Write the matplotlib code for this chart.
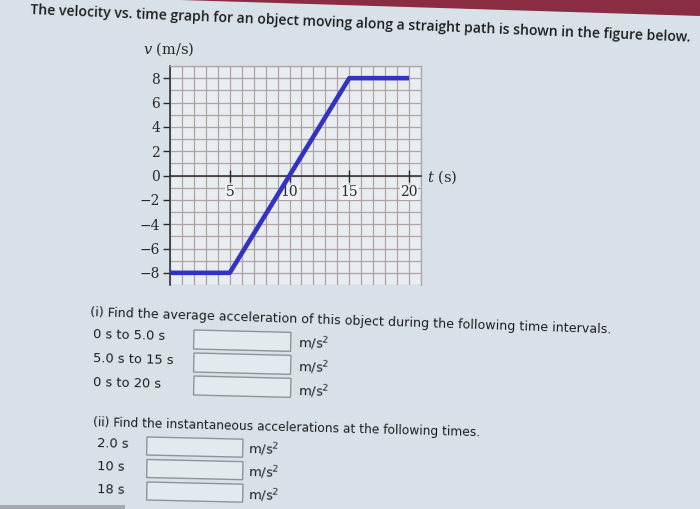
import matplotlib
matplotlib.use('Agg')
import matplotlib.pyplot as plt
from matplotlib.patches import Polygon
from matplotlib.ticker import MultipleLocator, FixedLocator
import numpy as np

# ---------------- data ----------------
time_s = [0, 5, 15, 20]
velocity = [-8, -8, 8, 8]
x_ticks = [5, 10, 15, 20]
y_ticks = [-8, -6, -4, -2, 0, 2, 4, 6, 8]
title_text = ("The velocity vs. time graph for an object moving along a "
              "straight path is shown in the figure below.")
part1_text = ("(i) Find the average acceleration of this object during the "
              "following time intervals.")
part1_rows = ["0 s to 5.0 s", "5.0 s to 15 s", "0 s to 20 s"]
part2_text = "(ii) Find the instantaneous accelerations at the following times."
part2_rows = ["2.0 s", "10 s", "18 s"]
unit_text = "m/s$^2$"

# ---------------- figure ----------------
W, H = 700, 509
plt.rcParams['mathtext.default'] = 'regular'
plt.rcParams['mathtext.fontset'] = 'dejavuserif'

fig = plt.figure(figsize=(W / 100, H / 100), dpi=100)
fig.patch.set_facecolor('#d7e1e7')

bg = fig.add_axes([0, 0, 1, 1])
bg.set_xlim(0, W)
bg.set_ylim(H, 0)
bg.axis('off')
bg.set_zorder(0)

# decorative photo edges
bg.add_patch(Polygon([(180, 0), (W, 0), (W, 16)], closed=True,
                     facecolor='#8a2c42', edgecolor='none'))
bg.add_patch(Polygon([(0, 505), (125, 505), (125, H), (0, H)], closed=True,
                     facecolor='#a3a9ae', edgecolor='none'))

renderer = fig.canvas.get_renderer()
TXT = '#1e1e1e'


def fit_text(x, y, s, width, angle, family='DejaVu Sans', weight='normal'):
    t = bg.text(x, y, s, ha='left', va='center', fontsize=10, family=family,
                weight=weight, color=TXT, rotation_mode='anchor')
    w = t.get_window_extent(renderer).width
    t.set_fontsize(10 * width / w)
    t.set_rotation(-angle)
    return t


def row_text(x, y, s, angle=1.5, size=9.4):
    bg.text(x, y, s, ha='left', va='center', fontsize=size,
            family='DejaVu Sans', color=TXT, rotation=-angle,
            rotation_mode='anchor')


def box(x, y, w, h, angle):
    a = np.deg2rad(angle)
    c, s = np.cos(a), np.sin(a)
    pts = [(x, y), (x + w * c, y + w * s),
           (x + w * c - h * s, y + w * s + h * c), (x - h * s, y + h * c)]
    bg.add_patch(Polygon(pts, closed=True, facecolor='#e2eaee',
                         edgecolor='#8e9499', lw=1))


# title and questions
fit_text(30, 10, title_text, 663, 2.4, family='Open Sans', weight='semibold')
fit_text(90, 313, part1_text, 517, 1.9)
fit_text(93, 423, part2_text, 387, 1.5)

row1_y = [335, 359, 383]
for i, lab in enumerate(part1_rows):
    row_text(93, row1_y[i], lab)
    box(194, 330 + 23 * i, 97, 19, 1.4)
    row_text(298, row1_y[i] + 8, unit_text)

row2_y = [444, 467, 490]
for i, lab in enumerate(part2_rows):
    row_text(97, row2_y[i], lab)
    box(147, 437 + 22.5 * i, 96, 18, 1.3)
    row_text(248, row2_y[i] + 5, unit_text)

# ---------------- graph ----------------
GRID = '#b3a2a6'
DARK = '#2a2a2a'
ax = fig.add_axes([170 / W, 1 - 285 / H, 251 / W, 219 / H])
ax.set_zorder(1)
ax.set_facecolor('#e7edf0')
ax.set_xlim(0, 21)
ax.set_ylim(-9, 9)

# spine placement first (it resets the ticks)
ax.spines['bottom'].set_position(('data', 0))
for k in ['bottom', 'left']:
    ax.spines[k].set_color(DARK)
    ax.spines[k].set_linewidth(1.1)
for k in ['top', 'right']:
    ax.spines[k].set_color(GRID)
    ax.spines[k].set_linewidth(0.9)

ax.xaxis.set_major_locator(FixedLocator(x_ticks))
ax.yaxis.set_major_locator(FixedLocator(y_ticks))
ax.xaxis.set_minor_locator(MultipleLocator(1))
ax.yaxis.set_minor_locator(MultipleLocator(1))
ax.grid(True, which='both', color=GRID, lw=0.9)

ax.tick_params(axis='x', which='major', direction='inout', length=8,
               width=1, color=DARK, pad=3)
ax.tick_params(axis='y', which='major', direction='out', length=5,
               width=1, color=DARK, pad=2)
ax.tick_params(which='minor', length=0)

ax.set_xticks(x_ticks, labels=[str(v) for v in x_ticks])
ax.set_yticks(y_ticks, labels=[str(v).replace('-', '\u2212') for v in y_ticks])
for lab in ax.get_xticklabels():
    lab.set_fontfamily('DejaVu Serif')
    lab.set_fontsize(10)
    lab.set_color(DARK)
    lab.set_bbox(dict(facecolor='#eef2f4', edgecolor='none', pad=0.5))
for lab in ax.get_yticklabels():
    lab.set_fontfamily('DejaVu Serif')
    lab.set_fontsize(10)
    lab.set_color(DARK)

ax.yaxis.set_zorder(1.5)
ax.xaxis.set_zorder(1.6)

ax.plot(time_s, velocity, color='#3333c2', lw=3.3, solid_joinstyle='round',
        solid_capstyle='butt', zorder=3)

ax.annotate(r"$\mathit{t}$ (s)", xy=(1, 0), xycoords=('axes fraction', 'data'),
            xytext=(4, -1.5), textcoords='offset points', ha='left',
            va='center', fontsize=10.5, family='DejaVu Serif', color=DARK,
            annotation_clip=False)
ax.annotate(r"$\mathit{v}$ (m/s)", xy=(0, 1), xycoords='axes fraction',
            xytext=(-1, 12), textcoords='offset points', ha='center',
            va='center', fontsize=10.5, family='DejaVu Serif', color=DARK,
            annotation_clip=False)

fig.savefig('out.png', dpi=100, facecolor=fig.get_facecolor())
